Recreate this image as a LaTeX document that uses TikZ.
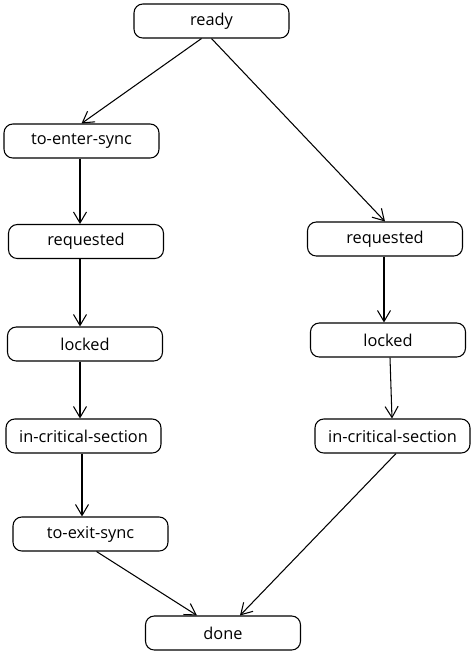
\documentclass[tikz,border=0pt]{standalone}
\usepackage{fontspec}
\setmainfont{Open Sans}
\usetikzlibrary{arrows.meta}
\begin{document}
\begin{tikzpicture}[x=0.02cm, y=-0.02cm,
		stbox/.style={draw, rounded corners=5, line width=0.6pt, minimum width=3.1cm,
			minimum height=0.68cm, inner sep=0pt, font=\fontsize{9.3}{11}\selectfont},
		flow/.style={-{Straight Barb[length=2.2mm, width=2.6mm]}, line width=0.6pt}]
		\useasboundingbox (0,0) rectangle (474,654);
		% start and end
		\node[stbox] (ready) at (211.5,21) {ready};
		\node[stbox] (done) at (223,633) {done};
		% left column
		\node[stbox] (entersync) at (81.5,141) {to-enter-sync};
		\node[stbox] (reqL) at (86,241.5) {requested};
		\node[stbox] (lockL) at (85,344) {locked};
		\node[stbox] (critL) at (83.5,436) {in-critical-section};
		\node[stbox] (exitsync) at (90.5,534) {to-exit-sync};
		% right column
		\node[stbox] (reqR) at (385,239) {requested};
		\node[stbox] (lockR) at (388,340) {locked};
		\node[stbox] (critR) at (392.5,436) {in-critical-section};
		% arrows
		\draw[flow] ([shift={(-10,0)}]ready.south) -- (entersync.north);
		\draw[flow] (ready.south) -- (reqR.north);
		\draw[flow] ([shift={(-1.5,0)}]entersync.south) -- ([shift={(-1.5,0)}]entersync.south |- reqL.north);
		\draw[flow] ([shift={(-6,0)}]reqL.south) -- ([shift={(-6,0)}]reqL.south |- lockL.north);
		\draw[flow] ([shift={(-5,0)}]lockL.south) -- ([shift={(-5,0)}]lockL.south |- critL.north);
		\draw[flow] ([shift={(-1.5,0)}]critL.south) -- ([shift={(-1.5,0)}]critL.south |- exitsync.north);
		\draw[flow] ([shift={(6,0)}]exitsync.south) -- ([shift={(-26,0)}]done.north);
		\draw[flow] ([shift={(-1,0)}]reqR.south) -- ([shift={(-1,0)}]reqR.south |- lockR.north);
		\draw[flow] ([shift={(2,0)}]lockR.south) -- ([shift={(-0.5,0)}]critR.north);
		\draw[flow] ([shift={(3.5,0)}]critR.south) -- ([shift={(17,0)}]done.north);
	\end{tikzpicture}
\end{document}
